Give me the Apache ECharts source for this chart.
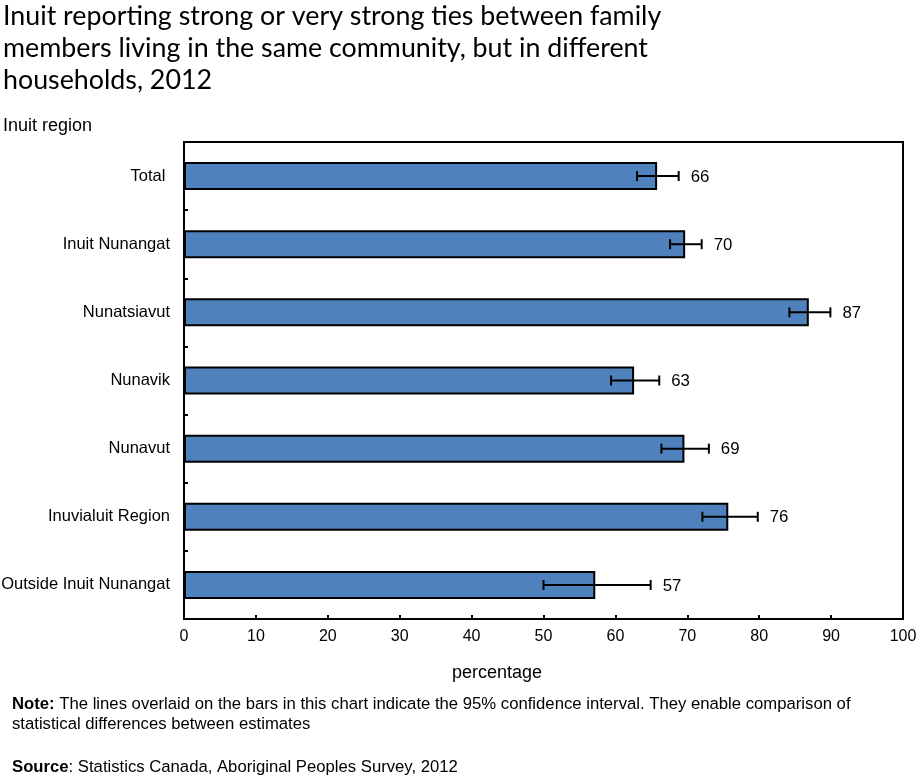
<!DOCTYPE html>
<html><head><meta charset="utf-8">
<script src="https://cdn.jsdelivr.net/npm/echarts@6/dist/echarts.min.js"></script>
<style>html,body{margin:0;padding:0;background:#fff}#c{width:917px;height:775px}</style>
</head><body><div id="c"></div>
<script>
const categories = ["Total ", "Inuit Nunangat", "Nunatsiavut", "Nunavik", "Nunavut", "Inuvialuit Region", "Outside Inuit Nunangat"];
const values = [65.8, 69.7, 86.9, 62.6, 69.6, 75.7, 57.2];
const lowerCI = [63.0, 67.6, 84.2, 59.4, 66.4, 72.1, 50.0];
const upperCI = [68.8, 72.0, 89.9, 66.1, 73.0, 79.8, 64.9];
const valueLabels = ["66", "70", "87", "63", "69", "76", "57"];
const xTicks = [0, 10, 20, 30, 40, 50, 60, 70, 80, 90, 100];

const chart = echarts.init(document.getElementById('c'));
const errData = categories.map((c, i) => [i, lowerCI[i], upperCI[i]]);
const bodyFont = 'Liberation Sans';
chart.setOption({
  animation: false,
  title: [
    { text: "Inuit reporting strong or very strong ties between family\nmembers living in the same community, but in different\nhouseholds, 2012",
      left: -2, top: -5, textStyle: { fontFamily: 'Lato', fontSize: 26.8, fontWeight: 'normal', color: '#000', lineHeight: 32 } },
    { text: "Inuit region", left: -2, top: 112, textStyle: { fontFamily: bodyFont, fontSize: 18, fontWeight: 'normal', color: '#000' } },
    { text: "percentage", left: 447, top: 659, textStyle: { fontFamily: bodyFont, fontSize: 18, fontWeight: 'normal', color: '#000' } },
    { text: "{b|Note:} The lines overlaid on the bars in this chart indicate the 95% confidence interval. They enable comparison of\nstatistical differences between estimates",
      left: 7, top: 689, textStyle: { fontFamily: bodyFont, fontSize: 16.7, fontWeight: 'normal', color: '#000', lineHeight: 20,
        rich: { b: { fontFamily: bodyFont, fontSize: 16.7, fontWeight: 'bold', color: '#000', lineHeight: 20 } } } },
    { text: "{b|Source}: Statistics Canada, Aboriginal Peoples Survey, 2012",
      left: 7, top: 752, textStyle: { fontFamily: bodyFont, fontSize: 16.7, fontWeight: 'normal', color: '#000', lineHeight: 20,
        rich: { b: { fontFamily: bodyFont, fontSize: 16.7, fontWeight: 'bold', color: '#000', lineHeight: 20 } } } }
  ],
  grid: { left: 184, right: 14, top: 142, bottom: 156, show: true, borderColor: '#000', borderWidth: 2,
    containLabel: false, outerBoundsMode: 'none' },
  xAxis: {
    type: 'value', min: 0, max: 100, interval: 10,
    axisLine: { show: true, lineStyle: { color: '#000', width: 2 } },
    axisTick: { show: true, inside: true, length: 4, lineStyle: { color: '#000', width: 2 } },
    axisLabel: { fontFamily: bodyFont, fontSize: 16, color: '#000', margin: 10,
      formatter: v => xTicks.includes(v) ? String(v) : '' },
    splitLine: { show: false }
  },
  yAxis: {
    type: 'category', data: categories, inverse: true,
    axisLine: { show: true, lineStyle: { color: '#000', width: 2 } },
    axisTick: { show: true, inside: true, length: 4, lineStyle: { color: '#000', width: 2 } },
    axisLabel: { fontFamily: bodyFont, fontSize: 16.5, color: '#000', margin: 14 }
  },
  series: [
    { type: 'bar', data: values, barWidth: 28,
      itemStyle: { color: '#4f81bd', borderColor: '#000', borderWidth: 2 } },
    { type: 'custom', data: errData, z: 5,
      encode: { x: [1, 2], y: 0 },
      renderItem: function (params, api) {
        const idx = api.value(0);
        const lo = api.coord([api.value(1), idx]);
        const hi = api.coord([api.value(2), idx]);
        const h = 5;
        const style = { stroke: '#000', lineWidth: 2 };
        return { type: 'group', children: [
          { type: 'line', shape: { x1: lo[0], y1: lo[1], x2: hi[0], y2: hi[1] }, style },
          { type: 'line', shape: { x1: lo[0], y1: lo[1] - h, x2: lo[0], y2: lo[1] + h }, style },
          { type: 'line', shape: { x1: hi[0], y1: hi[1] - h, x2: hi[0], y2: hi[1] + h }, style },
          { type: 'text', x: hi[0] + 12, y: hi[1] + 1,
            style: { text: valueLabels[params.dataIndex], fontFamily: bodyFont, fontSize: 16.8, fill: '#000', verticalAlign: 'middle', align: 'left' } }
        ] };
      }
    }
  ]
});
</script></body></html>
